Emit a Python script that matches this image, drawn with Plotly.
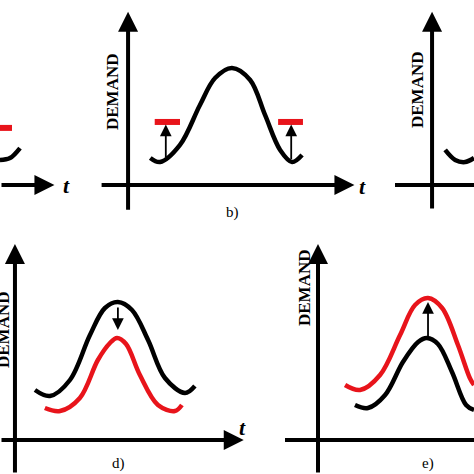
import plotly.graph_objects as go

# panel-local data (t, demand)
b_t = [1.0, 1.44, 2.34, 3.24, 3.92, 4.68, 5.5, 6.17, 6.85, 7.39, 7.84]
b_d = [1.54, 1.31, 2.29, 4.57, 6.11, 6.69, 6.0, 4.0, 2.0, 1.31, 1.71]
b_bar_t = [[1.2, 2.34], [6.76, 7.88]]
b_bar_d = 3.6
b_arrow_t = [1.7, 7.35]
b_arrow_from = [1.5, 1.4]

tl_t = [7.75, 8.2, 8.65]
tl_d = [1.43, 1.54, 2.11]
tl_bar_t = [7.75, 8.29]
tl_bar_d = 3.26

tr_t = [0.59, 1.04, 1.49, 1.89]
tr_d = [2.0, 1.43, 1.31, 1.54]

d_black_t = [0.91, 1.59, 2.5, 3.41, 4.09, 4.68, 5.32, 6.05, 6.82, 7.73, 8.18]
d_black_d = [2.5, 2.2, 3.0, 5.25, 6.6, 6.9, 6.5, 5.0, 3.1, 2.35, 2.7]
d_red_t = [1.36, 2.05, 2.95, 3.77, 4.32, 4.64, 5.05, 5.68, 6.5, 7.27, 7.59]
d_red_d = [1.6, 1.45, 2.1, 4.0, 4.85, 5.1, 4.8, 3.25, 1.75, 1.45, 1.75]

e_red_t = [1.23, 1.91, 2.82, 3.73, 4.41, 5.0, 5.64, 6.36, 6.9, 7.09]
e_red_d = [2.75, 2.5, 3.25, 5.25, 6.75, 7.1, 6.6, 4.75, 3.1, 2.75]
e_black_t = [1.68, 2.27, 3.05, 3.86, 4.55, 4.95, 5.45, 6.09, 6.73, 7.09]
e_black_d = [1.75, 1.6, 2.25, 3.9, 4.9, 5.1, 4.8, 3.4, 1.75, 1.5]

W = 474.0
def dom_x(a, b): return [a / W, b / W]
def dom_y(top, bot): return [(W - bot) / W, (W - top) / W]

panels = {
    "b":  dict(dx=dom_x(95, 370), dy=dom_y(0, 235), rx=[-1.49, 10.9], ry=[-2.86, 10.57]),
    "tl": dict(dx=dom_x(0, 80), dy=dom_y(0, 235), rx=[7.75, 11.35], ry=[-2.86, 10.57]),
    "tr": dict(dx=dom_x(395, 474), dy=dom_y(0, 235), rx=[-1.67, 1.89], ry=[-2.86, 10.57]),
    "d":  dict(dx=dom_x(0, 260), dy=dom_y(235, 474), rx=[-0.68, 11.14], ry=[-1.7, 10.25]),
    "e":  dict(dx=dom_x(285, 474), dy=dom_y(235, 474), rx=[-1.5, 7.09], ry=[-1.7, 10.25]),
}
names = list(panels.keys())
ref = {n: (("x" if i == 0 else f"x{i+1}"), ("y" if i == 0 else f"y{i+1}")) for i, n in enumerate(names)}

fig = go.Figure()
layout = {}
for i, n in enumerate(names):
    p = panels[n]
    s = "" if i == 0 else str(i + 1)
    layout[f"xaxis{s}"] = dict(domain=p["dx"], range=p["rx"], visible=False, anchor=f"y{s}")
    layout[f"yaxis{s}"] = dict(domain=p["dy"], range=p["ry"], visible=False, anchor=f"x{s}")

RED = "#e8141b"
def line(n, t, d, color, w=4.5):
    xr, yr = ref[n]
    fig.add_trace(go.Scatter(x=t, y=d, mode="lines", line=dict(color=color, width=w, shape="spline"),
                             xaxis=xr, yaxis=yr, showlegend=False, hoverinfo="skip"))

line("b", b_t, b_d, "black")
for bt in b_bar_t:
    line("b", bt, [b_bar_d, b_bar_d], RED, 6)
line("tl", tl_t, tl_d, "black")
line("tl", tl_bar_t, [tl_bar_d, tl_bar_d], RED, 6)
line("tr", tr_t, tr_d, "black")
line("d", d_red_t, d_red_d, RED)
line("d", d_black_t, d_black_d, "black")
line("e", e_black_t, e_black_d, "black")
line("e", e_red_t, e_red_d, RED)

anns = []
def arrow(n, x0, y0, x1, y1, w=4, size=1.0):
    xr, yr = ref[n]
    anns.append(dict(x=x1, y=y1, ax=x0, ay=y0, xref=xr, yref=yr, axref=xr, ayref=yr,
                     showarrow=True, arrowhead=2, arrowwidth=w, arrowsize=size,
                     arrowcolor="black", text=""))

# axes
arrow("b", -1.26, 0, 10.2, 0); arrow("b", 0, -1.5, 0, 9.9)
arrow("tl", 7.75, 0, 10.2, 0)
arrow("tr", 0, -1.43, 0, 9.9)
arrow("d", -0.68, 0, 10.4, 0); arrow("d", 0, -1.7, 0, 9.8)
arrow("e", 0, -1.7, 0, 9.8)
xr, yr = ref["e"]
fig.add_shape(type="line", x0=-1.5, y0=0, x1=7.09, y1=0, xref=xr, yref=yr, line=dict(color="black", width=4))
xr, yr = ref["tr"]
fig.add_shape(type="line", x0=-1.67, y0=0, x1=1.89, y1=0, xref=xr, yref=yr, line=dict(color="black", width=4))

# small arrows
for at, af in zip(b_arrow_t, b_arrow_from):
    arrow("b", at, af, at, b_bar_d - 0.15, w=1.8, size=1.3)
arrow("d", 4.68, 6.7, 4.68, 5.5, w=1.8, size=1.3)
arrow("e", 5.0, 5.0, 5.0, 6.9, w=1.8, size=1.3)

SERIF = "Liberation Serif"
def ptext(txt, x, y, size=15, angle=0, bold=False, italic=False):
    t = txt
    if bold: t = f"<b>{t}</b>"
    if italic: t = f"<i>{t}</i>"
    anns.append(dict(text=t, x=x / W, y=(W - y) / W, xref="paper", yref="paper", showarrow=False,
                     textangle=angle, font=dict(family=SERIF, size=size, color="black"),
                     xanchor="center", yanchor="middle"))

for (x, y) in [(113, 92), (4, 330), (304, 288), (417, 90)]:
    ptext("DEMAND", x, y, 17, -90, bold=True)
for (x, y) in [(362, 187), (66, 185), (243, 427)]:
    ptext("t", x, y, 22, bold=True, italic=True)
ptext("b)", 232, 213, 15)
ptext("d)", 118, 463, 15)
ptext("e)", 428, 463, 15)

fig.update_layout(**layout, annotations=anns, width=474, height=474,
                  margin=dict(l=0, r=0, t=0, b=0), plot_bgcolor="white", paper_bgcolor="white")
fig.write_html("out.html", config={"displayModeBar": False},
               post_script="document.body.style.margin='0';document.body.style.overflow='hidden';")
